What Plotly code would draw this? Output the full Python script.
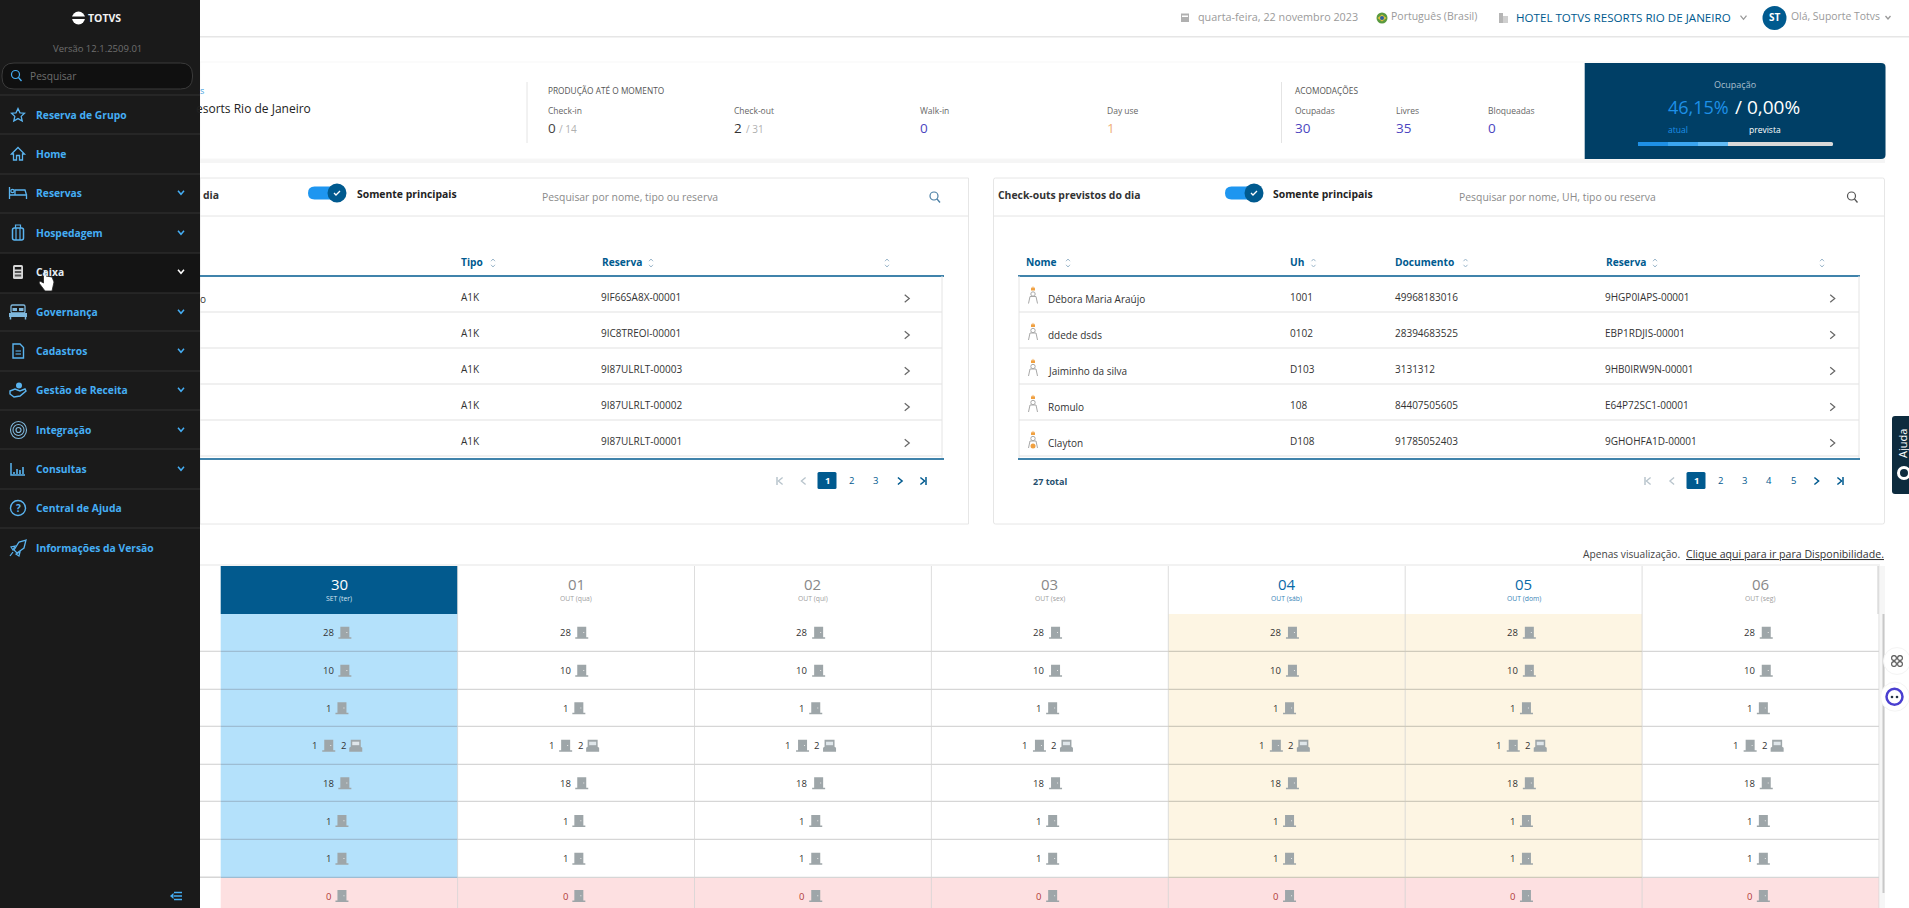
import plotly.graph_objects as go

FONT = "Open Sans"

menu_items = ["Reserva de Grupo", "Home", "Reservas", "Hospedagem", "Caixa", "Governança",
              "Cadastros", "Gestão de Receita", "Integração", "Consultas", "Central de Ajuda",
              "Informações da Versão"]
menu_chevrons = [False, False, True, True, True, True, True, True, True, True, False, False]
menu_icons = ["star", "home", "bed", "bag", "calc", "bed2", "doc", "coin", "target", "bars", "help", "rocket"]

prod_labels = ["Check-in", "Check-out", "Walk-in", "Day use"]
prod_values = ["0", "2", "0", "1"]
prod_totals = ["/ 14", "/ 31", "", ""]
acom_labels = ["Ocupadas", "Livres", "Bloqueadas"]
acom_values = ["30", "35", "0"]

checkin_tipo = ["A1K", "A1K", "A1K", "A1K", "A1K"]
checkin_reserva = ["9IF66SA8X-00001", "9IC8TREOI-00001", "9I87ULRLT-00003", "9I87ULRLT-00002", "9I87ULRLT-00001"]

checkout_nome = ["Débora Maria Araújo", "ddede dsds", "Jaiminho da silva", "Romulo", "Clayton"]
checkout_uh = ["1001", "0102", "D103", "108", "D108"]
checkout_doc = ["49968183016", "28394683525", "3131312", "84407505605", "91785052403"]
checkout_reserva = ["9HGP0IAPS-00001", "EBP1RDJIS-00001", "9HB0IRW9N-00001", "E64P72SC1-00001", "9GHOHFA1D-00001"]

day_numbers = ["30", "01", "02", "03", "04", "05", "06"]
day_labels = ["SET (ter)", "OUT (qua)", "OUT (qui)", "OUT (sex)", "OUT (sáb)", "OUT (dom)", "OUT (seg)"]
room_counts = [28, 10, 1, 1, 18, 1, 1, 0]
machine_counts = [0, 0, 0, 2, 0, 0, 0, 0]

DARK_BLUE = "#005a8f"
MENU_BLUE = "#45aef5"
GREY_TXT = "#8c8c8c"
LINE = "#e4e4e4"

shapes = []
annos = []


def rect(x0, y0, x1, y1, fill, line=None, w=1):
    shapes.append(dict(type="rect", x0=x0, y0=y0, x1=x1, y1=y1, fillcolor=fill,
                       line=dict(color=line, width=w if line else 0)))


def seg(x0, y0, x1, y1, color=LINE, w=1):
    shapes.append(dict(type="line", x0=x0, y0=y0, x1=x1, y1=y1, line=dict(color=color, width=w)))


def circ(cx, cy, r, fill=None, line=None, w=1, ry=None):
    ry = ry or r
    shapes.append(dict(type="circle", x0=cx - r, y0=cy - ry, x1=cx + r, y1=cy + ry,
                       fillcolor=fill or "rgba(0,0,0,0)", line=dict(color=line, width=w if line else 0)))


def poly(cx, cy, pts, fill=None, line=None, w=1, closed=True):
    d = "M " + " L ".join(f"{cx + a:.2f},{cy + b:.2f}" for a, b in pts) + (" Z" if closed else "")
    shapes.append(dict(type="path", path=d, fillcolor=fill or "rgba(0,0,0,0)",
                       line=dict(color=line, width=w if line else 0)))


def rrect(x0, y0, x1, y1, r, fill, line=None, w=1):
    d = (f"M {x0 + r},{y0} L {x1 - r},{y0} Q {x1},{y0} {x1},{y0 + r} L {x1},{y1 - r} Q {x1},{y1} {x1 - r},{y1} "
         f"L {x0 + r},{y1} Q {x0},{y1} {x0},{y1 - r} L {x0},{y0 + r} Q {x0},{y0} {x0 + r},{y0} Z")
    shapes.append(dict(type="path", path=d, fillcolor=fill, line=dict(color=line, width=w if line else 0)))


def txt(x, y, s, size=10, color="#333333", anchor="left", bold=False, angle=0):
    if anchor == "left":
        x -= 1
    annos.append(dict(x=x, y=y, text=f"<b>{s}</b>" if bold else s, showarrow=False, xanchor=anchor,
                      yanchor="middle", borderpad=0, textangle=angle,
                      font=dict(family=FONT, size=size, color=color)))


def chevron(cx, cy, color, s=3.0, w=1.3, kind="down"):
    if kind == "down":
        poly(cx, cy, [(-s, -s * 0.6), (0, s * 0.6), (s, -s * 0.6)], line=color, w=w, closed=False)
    elif kind == "right":
        poly(cx, cy, [(-s * 0.6, -s), (s * 0.6, 0), (-s * 0.6, s)], line=color, w=w, closed=False)
    else:
        poly(cx, cy, [(s * 0.6, -s), (-s * 0.6, 0), (s * 0.6, s)], line=color, w=w, closed=False)


def sort_mark(cx, cy):
    poly(cx, cy - 3, [(-2, 1.2), (0, -1), (2, 1.2)], line="#9db8cc", w=1, closed=False)
    poly(cx, cy + 3, [(-2, -1.2), (0, 1), (2, -1.2)], line="#9db8cc", w=1, closed=False)


def magnifier(cx, cy, color):
    circ(cx - 1, cy - 1, 4, line=color, w=1.2)
    seg(cx + 2, cy + 2, cx + 5, cy + 5.5, color, 1.3)


def toggle(x, cy):
    rrect(x, cy - 6.5, x + 30, cy + 6.5, 6.5, "#1e96f0")
    circ(x + 29, cy, 9.5, fill=DARK_BLUE)
    poly(x + 29, cy, [(-3, 0), (-1, 2), (3, -2)], line="white", w=1.3, closed=False)


def door(cx, cy):
    poly(cx, cy, [(-4.5, -6), (4.5, -6), (4.5, 4.5), (6.5, 4.5), (6.5, 6), (-6.5, 6), (-6.5, 4.5), (-4.5, 4.5)],
         fill="#9ea6a9")
    rect(cx + 1.5, cy - 0.8, cx + 2.5, cy + 0.2, "#e8e8e8")


def machine(cx, cy):
    poly(cx, cy, [(-5, -6), (5, -6), (5, 1), (6.5, 2), (6.5, 6), (-6.5, 6), (-6.5, 2), (-5, 1)], fill="#9ea6a9")
    rect(cx - 3.5, cy - 4, cx + 3.5, cy - 0.5, "#dfe6ea")


def person(cx, cy, star=False):
    c = "#a8a8a8"
    circ(cx, cy - 1.5, 2.2, line=c, w=1)
    poly(cx, cy, [(-4.5, 8), (-3, 1), (3, 1), (4.5, 8)], line=c, w=1, closed=False)
    poly(cx, cy - 6.5, [(-2, 1.5), (-2, -2), (-1, -0.5), (0, -3), (1, -0.5), (2, -2), (2, 1.5)], fill="#f0a040")
    if star:
        circ(cx, cy + 6, 2.5, fill="#f0a040")


def menu_icon(kind, cx, cy, c):
    if kind == "star":
        poly(cx, cy, [(0, -6.5), (2, -2.2), (6.5, -1.8), (3.2, 1.4), (4.2, 6), (0, 3.6), (-4.2, 6), (-3.2, 1.4),
                      (-6.5, -1.8), (-2, -2.2)], line=c, w=1.3)
    elif kind == "home":
        poly(cx, cy, [(-6.5, 0), (0, -6.5), (6.5, 0), (4.5, 0), (4.5, 6), (1.5, 6), (1.5, 1.5), (-1.5, 1.5), (-1.5, 6),
                      (-4.5, 6), (-4.5, 0)], line=c, w=1.3)
    elif kind == "bed":
        poly(cx, cy, [(-8.5, -6), (-8.5, 6)], line=c, w=1.3, closed=False)
        poly(cx, cy, [(-8.5, 2), (8.5, 2), (8.5, 6)], line=c, w=1.3, closed=False)
        poly(cx, cy, [(-3, 2), (-3, -3), (7, -3), (8.5, 2)], line=c, w=1.3, closed=False)
        circ(cx - 5.5, cy - 2, 1.7, line=c, w=1.2)
    elif kind == "bag":
        rrect(cx - 5.5, cy - 5, cx + 5.5, cy + 7, 2, "rgba(0,0,0,0)", c, 1.5)
        seg(cx - 2, cy - 5, cx - 2, cy + 7, c, 1.2)
        seg(cx + 2, cy - 5, cx + 2, cy + 7, c, 1.2)
        poly(cx, cy, [(-2.5, -5), (-2.5, -8), (2.5, -8), (2.5, -5)], line=c, w=1.2, closed=False)
    elif kind == "calc":
        rrect(cx - 5, cy - 7, cx + 5, cy + 7, 1.5, c)
        rect(cx - 3.2, cy - 5, cx + 3.2, cy - 2.5, "#1a1a1a")
        rect(cx - 3.2, cy - 1, cx + 3.2, cy + 1, "#555555")
        rect(cx - 3.2, cy + 2.5, cx + 3.2, cy + 4.5, "#555555")
    elif kind == "bed2":
        rrect(cx - 7, cy - 7, cx + 7, cy + 1, 1.5, "rgba(0,0,0,0)", "#7fb8dd", 1.3)
        rect(cx - 9, cy + 1, cx + 9, cy + 5, "#7fb8dd")
        seg(cx - 7.5, cy + 5, cx - 7.5, cy + 7.5, "#7fb8dd", 1.5)
        seg(cx + 7.5, cy + 5, cx + 7.5, cy + 7.5, "#7fb8dd", 1.5)
        rect(cx - 5.5, cy - 4, cx - 1, cy - 1, "#7fb8dd")
        rect(cx + 1, cy - 4, cx + 5.5, cy - 1, "#7fb8dd")
    elif kind == "doc":
        poly(cx, cy, [(-5, -7), (2, -7), (5.5, -3.5), (5.5, 7), (-5, 7)], line=c, w=1.4)
        seg(cx - 2.5, cy, cx + 3, cy, c, 1.1)
        seg(cx - 2.5, cy + 3, cx + 3, cy + 3, c, 1.1)
    elif kind == "coin":
        circ(cx + 1, cy - 4.5, 3, fill=c)
        poly(cx, cy, [(-8, 1), (-3, -1), (2, 1), (7, -1), (8, 1), (2, 6), (-4, 7), (-8, 4)], line=c, w=1.4)
    elif kind == "target":
        circ(cx + 0.5, cy, 8, line="#7fb8dd", w=1.1, ry=8.5)
        circ(cx + 0.5, cy, 5.5, line="#7fb8dd", w=1.1)
        circ(cx + 0.5, cy, 2.5, line="#7fb8dd", w=1.2)
    elif kind == "bars":
        poly(cx, cy, [(-7, -6), (-7, 6), (7, 6)], line=c, w=1.5, closed=False)
        for dx, h in zip((-4, -1, 2, 5), (2, 5, 4, 7)):
            rect(cx + dx - 0.8, cy + 5 - h, cx + dx + 0.8, cy + 5, c)
    elif kind == "help":
        circ(cx, cy, 7.5, line=c, w=1.4)
        txt(cx, cy, "?", 10, c, "center", True)
    elif kind == "rocket":
        poly(cx, cy, [(8, -8), (1, -6), (-4, 2), (-1, 5), (6, 0)], line=c, w=1.3)
        poly(cx, cy, [(-3, -2), (-7, -1), (-5, 2)], line=c, w=1.2)
        poly(cx, cy, [(2, 4), (1, 8), (-2, 6)], line=c, w=1.2)
        poly(cx, cy, [(-5, 4), (-8, 8)], line=c, w=1.2, closed=False)


# painel superior
rect(200, 159, 1885, 163, "#f5f5f5")
rect(200, 62, 1885, 159, "#ffffff", "#f7f7f7")
seg(200, 36.7, 1909, 36.7, "#e6e6e6", 1.5)

rect(1181, 13.5, 1189, 22, "#b0b0b0")
rect(1182, 15.5, 1188, 17, "#ffffff")
txt(1197.5, 16, "quarta-feira, 22 novembro 2023", 10.8, "#9a9a9a")
circ(1382, 18, 5.5, fill="#5a9a3f")
poly(1382, 18, [(-4.5, 0), (0, -3.5), (4.5, 0), (0, 3.5)], fill="#e0c040")
circ(1382, 18, 2, fill="#2f5f9f")
txt(1391, 16, "Português (Brasil)", 10.5, "#9a9a9a")
rect(1499, 13, 1503, 23, "#b5b5b5")
rect(1503, 16, 1508, 23, "#cfcfcf")
txt(1516, 17, "HOTEL TOTVS RESORTS RIO DE JANEIRO", 11.6, DARK_BLUE)
chevron(1743.5, 17.5, "#999999", 3)
circ(1774.5, 18, 12, fill=DARK_BLUE)
txt(1774.5, 17, "ST", 10, "white", "center", True)
txt(1791, 16, "Olá, Suporte Totvs", 10.4, "#9a9a9a")
chevron(1888, 17.5, "#999999", 2.5)

txt(312, 108.5, "esorts Rio de Janeiro", 12, "#222222", "right")
txt(200, 90, "s", 9, "#3f9fe0")
seg(527, 82, 527, 143)
seg(1281.5, 82, 1281.5, 143)
txt(547.5, 90, "PRODUÇÃO ATÉ O MOMENTO", 8.3, "#555555")
txt(1295, 90, "ACOMODAÇÕES", 8.3, "#555555")

prod_x = [547.5, 734, 920, 1107]
prod_colors = ["#444444", "#333333", "#4a45c0", "#f0b078"]
for x, lab, val, tot, col in zip(prod_x, prod_labels, prod_values, prod_totals, prod_colors):
    txt(x, 110, lab, 8.5, "#666666")
    txt(x, 128, val, 13.5, col)
    if tot:
        txt(x + 11.5, 129, tot, 10, "#b0b0b0")
for x, lab, val in zip([1295, 1396, 1488], acom_labels, acom_values):
    txt(x, 110, lab, 8.5, "#666666")
    txt(x, 128, val, 13.5, "#4a45c0")

# ocupacao
shapes.append(dict(type="path", path="M 1584.7,63 L 1881,63 Q 1885.5,63 1885.5,67 L 1885.5,155 Q 1885.5,159 1881,159 L 1584.7,159 Z",
                   fillcolor="#003f66", line=dict(width=0)))
txt(1735, 84, "Ocupação", 9, "#a9bfce", "center")
txt(1668, 107, "46,15%", 18, "#1e90e6")
txt(1735, 107, "/ 0,00%", 19, "#ffffff")
txt(1668, 129, "atual", 8.5, "#1e90e6")
txt(1749, 129, "prevista", 8.5, "#ffffff")
rrect(1638, 142, 1833, 146, 1.5, "#d9d9d9")
for x0, x1, col in [(1638, 1668, "#1e90e6"), (1668, 1698, "#3aa5f0"), (1698, 1728, "#62bbf5")]:
    rect(x0, 142, x1, 146, col)

# paineis de check-in e check-out
rect(200, 178, 968.5, 524, "#ffffff", "#e6e6e6")
rrect(993.5, 178, 1884.5, 524, 2, "#ffffff", "#e6e6e6")
seg(200, 216, 968.5, 216)
seg(993.5, 216, 1884.5, 216)

txt(203, 195, "dia", 10.4, "#333333", bold=True)
toggle(308, 193)
txt(357, 194, "Somente principais", 10.4, "#222222", bold=True)
txt(542, 197, "Pesquisar por nome, tipo ou reserva", 10.4, "#8a8a8a")
magnifier(935, 197, "#4a7fa5")

txt(998, 195, "Check-outs previstos do dia", 10.4, "#333333", bold=True)
toggle(1225, 193)
txt(1273, 194, "Somente principais", 10.4, "#222222", bold=True)
txt(1459, 197, "Pesquisar por nome, UH, tipo ou reserva", 10.4, "#8a8a8a")
magnifier(1852.5, 197, "#555555")

row_y = [296.5, 333, 369, 405, 441]
row_lines = [312, 348, 384, 420, 456]

# tabela da esquerda
txt(461, 262, "Tipo", 10.2, DARK_BLUE, bold=True)
sort_mark(493, 263)
txt(601.5, 262, "Reserva", 10.2, DARK_BLUE, bold=True)
sort_mark(651, 263)
sort_mark(887, 263)
seg(200, 276, 944, 276, DARK_BLUE, 1.5)
seg(942, 276, 942, 458, LINE)
for y in row_lines:
    seg(200, y, 942, y, "#e2e2e2", 1.2)
seg(200, 459, 944, 459, DARK_BLUE, 1.5)
txt(200, 299, "o", 10, "#333333")
for y, tipo, res in zip(row_y, checkin_tipo, checkin_reserva):
    txt(461, y, tipo, 10, "#333333")
    txt(601, y, res, 10, "#333333")
    chevron(907, y + 2, "#666666", 3.8, 1.2, "right")

# tabela da direita
for x, lab, sx in zip([1026, 1290, 1395, 1605.5], ["Nome", "Uh", "Documento", "Reserva"], [1068, 1313.5, 1465.5, 1655]):
    txt(x, 262, lab, 10.2, DARK_BLUE, bold=True)
    sort_mark(sx, 263)
sort_mark(1822, 263)
seg(1018, 276, 1860, 276, DARK_BLUE, 1.5)
seg(1019, 276, 1019, 458, LINE)
seg(1859, 276, 1859, 458, LINE)
for y in row_lines:
    seg(1019, y, 1859, y, "#e2e2e2", 1.2)
seg(1018, 459, 1860, 459, DARK_BLUE, 1.5)
for i, (y, nome, uh, doc, res) in enumerate(zip(row_y, checkout_nome, checkout_uh, checkout_doc, checkout_reserva)):
    person(1033, y - 1, star=i == 4)
    txt(1048, y + 2, nome, 10, "#333333")
    txt(1290, y, uh, 10, "#333333")
    txt(1395, y, doc, 10, "#333333")
    txt(1605, y, res, 10, "#333333")
    chevron(1832.5, y + 2, "#666666", 3.8, 1.2, "right")
txt(1033, 481, "27 total", 9, "#25506e", bold=True)


def pager(xs, pages):
    c = "#b8c4cc"
    seg(xs[0] - 3, 477, xs[0] - 3, 485, c, 1.5)
    chevron(xs[0] + 0.5, 481, c, 3.5, 1.3, "left")
    chevron(xs[1], 481, c, 3.5, 1.3, "left")
    rrect(xs[2] - 9.5, 472, xs[2] + 9.5, 489, 1.5, DARK_BLUE)
    for x, p in zip(xs[2:], pages):
        txt(x, 480.5, p, 9.5, "white" if p == "1" else DARK_BLUE, "center", bold=p == "1")
    chevron(xs[-2], 481, DARK_BLUE, 3.5, 1.5, "right")
    chevron(xs[-1] - 0.5, 481, DARK_BLUE, 3.5, 1.5, "right")
    seg(xs[-1] + 3, 477, xs[-1] + 3, 485, DARK_BLUE, 1.5)


pager([780, 803.5, 827, 851, 875, 900, 923], ["1", "2", "3"])
pager([1648, 1672, 1696, 1720.5, 1744.5, 1768.5, 1793, 1816.5, 1840], ["1", "2", "3", "4", "5"])

# disponibilidade
txt(1583, 554, "Apenas visualização.", 10.2, "#444444")
txt(1686, 554, "<u>Clique aqui para ir para Disponibilidade.</u>", 10.6, "#333333")

col_x = [220.7 + 236.9 * i for i in range(8)]
grid_lines = [614, 651.3, 689.3, 726.3, 764.3, 801.3, 839.3, 877.3, 908]
grid_text_y = [632.7, 670.7, 708.3, 745.7, 783.3, 821, 858.7, 896]

rect(col_x[0], 566, col_x[1], 614, "#025a8e")
rect(col_x[0], 614, col_x[1], 877.3, "#b4e1fb")
rect(col_x[4], 614, col_x[6], 877.3, "#fdf5e3")
rect(col_x[0], 877.3, col_x[7], 908, "#fde0e1")
rect(1880, 566, 1885, 908, "#f6f6f6")
rect(1882.5, 614, 1884.5, 893, "#c8c8c8")
seg(200, 565, 1880, 565, "#e6e6e6", 1.2)
for x in col_x[1:]:
    seg(x, 566, x, 908, "#d4d4d4", 0.8)
seg(col_x[7] - 1, 566, col_x[7] - 1, 614, "#cccccc", 1)
for y in grid_lines[1:-1]:
    seg(200, y, col_x[0], y, "#d6d6d6", 1.2)
    seg(col_x[0], y, col_x[1], y, "#9dbdd3", 1.2)
    seg(col_x[1], y, col_x[4], y, "#d6d6d6", 1.2)
    seg(col_x[4], y, col_x[6], y, "#cfcabb", 1.2)
    seg(col_x[6], y, col_x[7], y, "#d6d6d6", 1.2)
seg(200, 877.3, col_x[0], 877.3, "#d6d6d6", 1.2)

for i, (num, lab) in enumerate(zip(day_numbers, day_labels)):
    cx = (col_x[i] + col_x[i + 1]) / 2
    color = "white" if i == 0 else ("#0a6aa8" if i in (4, 5) else "#888888")
    txt(cx, 584, num, 15, color, "center")
    txt(cx, 598.7, lab, 6.8, "#d5e5f0" if i == 0 else ("#3a86b8" if i in (4, 5) else "#a0a0a0"), "center")
    for j, (rooms, mach, y) in enumerate(zip(room_counts, machine_counts, grid_text_y)):
        numc = "#b03a3a" if rooms == 0 else "#333333"
        if mach:
            txt(cx - 25, y, rooms, 9.5, numc, "center")
            door(cx - 10.4, y)
            txt(cx + 4, y, mach, 9.5, numc, "center")
            machine(cx + 16.6, y)
        else:
            txt(cx - 11, y, rooms, 9.5, numc, "center")
            door(cx + (5.7 if rooms >= 10 else 2.8), y)

# elementos flutuantes da direita
rrect(1892, 416, 1920, 494, 3, "#0d2b3e")
txt(1902, 444, "Ajuda", 11, "white", "center", angle=-90)
circ(1904, 473, 5.5, line="white", w=3)
circ(1897, 661, 13.5, fill="white", line="#f4f4f4")
for dx, dy in ((-3, -3), (3, -3), (-3, 3), (3, 3)):
    circ(1897 + dx, 661 + dy, 2.4, line="#555555", w=1.1)
circ(1895, 696.7, 14.5, fill="white", line="#f4f4f4")
circ(1894.5, 696.7, 8, fill="#ffffff", line="#4a3fd0", w=2.5)
circ(1892, 697, 1.3, fill="#223344")
circ(1897, 697, 1.3, fill="#223344")

# menu lateral
rect(0, 0, 200, 908, "#1a1a1a")
rect(0, 253, 200, 293, "#141414")
circ(78.5, 18, 6.5, fill="#ffffff")
rect(72, 16.5, 85, 19, "#1a1a1a")
txt(88, 18, "TOTVS", 10.5, "#f2f2f2", bold=True)
txt(97, 48.7, "Versão 12.1.2509.01", 9.5, "#6f6f6f", "center")
rrect(2, 63, 192.5, 89, 12, "#101010", "#3a3a3a", 1)
magnifier(16.5, 75.5, MENU_BLUE)
txt(29.5, 75.5, "Pesquisar", 10.2, "#6e6e6e")

sep_y = [95, 134, 174, 213, 253, 293, 331, 371, 410, 449, 489, 528]
item_y = [115, 154, 193, 233, 272, 312, 351, 390, 430, 469, 508, 548]
for y in sep_y:
    seg(0, y, 200, y, "#333333", 1)
for lab, has_chev, kind, y in zip(menu_items, menu_chevrons, menu_icons, item_y):
    c = "#e3edf4" if lab == "Caixa" else MENU_BLUE
    menu_icon(kind, 18, y, "#d8d8d8" if lab == "Caixa" else "#5ab4f0")
    txt(35.5, y, lab, 10.3, c, bold=True)
    if has_chev:
        chevron(181, y - 0.5, "#ffffff" if lab == "Caixa" else MENU_BLUE, 3, 1.5)

# ponteiro do mouse
poly(46, 278, [(-2.5, -8), (0, -8), (0, -2), (6, -1), (8, 4), (6, 13), (-1, 13), (-7, 5), (-6, 3), (-2.5, 5)],
     fill="#ffffff", line="#222222", w=0.8)

# recolher menu
poly(176, 896, [(-6, 0), (-2.5, -3), (-2.5, 3)], fill=MENU_BLUE)
seg(176 - 2, 896, 176 + 6, 896, MENU_BLUE, 1.5)
seg(176 - 2, 892.5, 176 + 6, 892.5, MENU_BLUE, 1.5)
seg(176 - 2, 899.5, 176 + 6, 899.5, MENU_BLUE, 1.5)

fig = go.Figure()
fig.add_trace(go.Scatter(x=[0, 1909], y=[0, 908], mode="markers", marker=dict(opacity=0), hoverinfo="skip", showlegend=False))
fig.update_layout(
    width=1909, height=908, margin=dict(l=0, r=0, t=0, b=0),
    paper_bgcolor="#ffffff", plot_bgcolor="#ffffff", showlegend=False,
    xaxis=dict(range=[0, 1909], visible=False, fixedrange=True),
    yaxis=dict(range=[908, 0], visible=False, fixedrange=True),
    shapes=shapes, annotations=annos,
)
fig.write_html("out.html", config=dict(displayModeBar=False),
               post_script="document.body.style.margin='0';document.body.style.overflow='hidden';")
